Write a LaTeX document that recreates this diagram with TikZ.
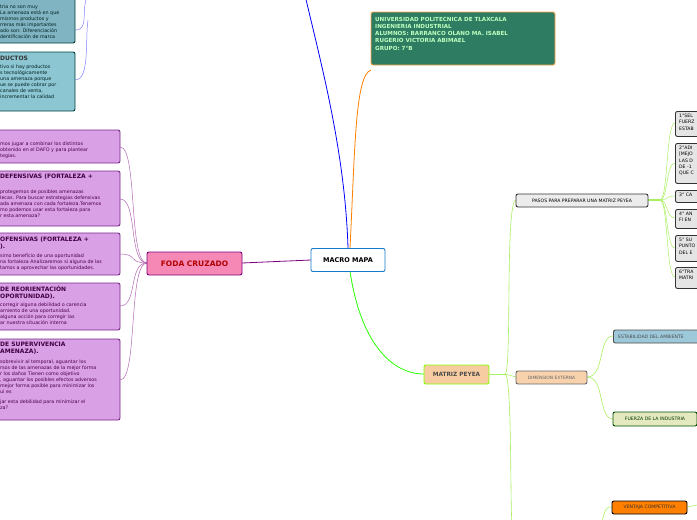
\documentclass[tikz,border=0pt]{standalone}
\usepackage{fontspec}
\setmainfont{DejaVu Sans}
\begin{document}
\begin{tikzpicture}[x=1pt,y=-1pt,
 bx/.style={draw,rounded corners=2pt,line width=0.9pt,inner sep=0pt},
 tx/.style={anchor=north west,align=left,inner sep=0pt,font=\fontsize{4.8}{6}\selectfont},
 ptx/.style={tx,text=violet!60!black},
 ttx/.style={tx,text=black!75!teal},
 gl/.style={color=lgr,line width=0.6pt}]
\useasboundingbox (0,0) rectangle (697,520);
\clip (0,0) rectangle (697,520);
\definecolor{purp}{HTML}{D9A0E6}
\definecolor{purpb}{HTML}{7A2A8A}
\definecolor{tealb}{HTML}{80B4C2}
\definecolor{tealc}{HTML}{8CC6D2}
\definecolor{lgr}{HTML}{A8F060}
\definecolor{unig}{HTML}{2E7D62}
% connectors
\draw[blue,line width=0.8pt] (348,248) .. controls (345,150) and (320,60) .. (305,-5);
\draw[blue!50,line width=0.5pt] (75,30) .. controls (90,30) and (80,10) .. (88,-5);
\draw[blue!50,line width=0.5pt] (75,80) .. controls (90,80) and (85,40) .. (88,20);
\draw[orange,line width=0.8pt] (350,248) .. controls (355,150) and (355,75) .. (371,70);
\draw[violet,line width=0.8pt] (311,260) -- (242,263);
\foreach \y in {147,199,254,306,380}{
 \draw[violet!60,line width=0.5pt] (147,263) .. controls (128,263) and (138,\y) .. (120,\y);}
\draw[green!80!lime,line width=0.8pt] (350,271) .. controls (360,340) and (390,374) .. (424,374);
\draw[gl,line width=1pt] (489,374) -- (505,374);
\draw[gl] (505,374) .. controls (512,374) and (505,200) .. (516,200);
\draw[gl] (505,374) .. controls (512,374) and (510,500) .. (512,525);
\draw[gl] (505,374) -- (516,377);
\draw[gl] (587,377) .. controls (605,377) and (598,336) .. (613,336);
\draw[gl] (587,377) .. controls (605,377) and (598,419) .. (613,419);
\draw[gl] (600,530) .. controls (605,510) and (605,507) .. (612,507);
\draw[gl] (687,507) -- (697,505);
\draw[gl,line width=1.2pt] (648,200) -- (660,200);
\foreach \y in {123,163,196,218,248,277}{
 \draw[gl,line width=0.5pt] (660,200) .. controls (668,200) and (666,\y) .. (675,\y);}
% central
\node[bx,draw=cyan!60!blue,fill=white,minimum width=74pt,minimum height=23pt,font=\bfseries\fontsize{6.5}{8}\selectfont] (macro) at (348,260) {MACRO MAPA};
\node[bx,draw=orange!70,fill=unig,minimum width=184pt,minimum height=53pt] (uni) at (463,38.5) {};
\node[tx,text=green!25,font=\bfseries\fontsize{5.6}{7.2}\selectfont] at (375,17) {UNIVERSIDAD POLITECNICA DE TLAXCALA\\INGENIERIA INDUSTRIAL\\ALUMNOS: BARRANCO OLANO MA. ISABEL\\RUGERIO VICTORIA ABIMAEL\\GRUPO: 7°B};
\node[bx,draw=violet,fill=magenta!45!pink!80,minimum width=95pt,minimum height=23pt,font=\bfseries\fontsize{7.5}{9}\selectfont,text=red!70!black] (foda) at (194.5,263.5) {FODA CRUZADO};
% teal boxes top left
\node[bx,draw=teal!50!black,fill=tealb] (t1) at (32,10) [minimum width=86pt,minimum height=66pt] {};
\node[ttx] at (0,5) {tria no son muy\\La amenaza está en que\\mismos productos y\\rreras más importantes\\ado son: Diferenciación\\dentificación de marca};
\node[bx,draw=teal!50!black,fill=tealc] (t2) at (32,81.5) [minimum width=86pt,minimum height=59pt] {};
\node[tx,font=\bfseries\fontsize{6}{7}\selectfont,text=black!80] at (0,56) {DUCTOS};
\node[ttx] at (0,65) {tivo si hay productos\\s tecnológicamente\\ una amenaza porque\\ue se puede cobrar por\\canales de venta,\\ incrementar la calidad};
% purple boxes
\node[bx,draw=purpb,fill=purp] (p1) at (55,146.5) [minimum width=130pt,minimum height=33pt] {};
\node[ptx] at (0,142) {mos jugar a combinar los distintos\\ obtenido en el DAFO y para plantear\\tegias.};
\node[bx,draw=purpb,fill=purp] (p2) at (55,198.5) [minimum width=130pt,minimum height=55pt] {};
\node[tx,font=\bfseries\fontsize{6}{7}\selectfont,text=violet!50!black] at (0,174) {DEFENSIVAS (FORTALEZA +};
\node[ptx] at (0,190) { protegemos de posibles amenazas\\ lecas. Para buscar estrategias defensivas\\ada amenaza con cada fortaleza.Tenemos\\mo podemos usar esta fortaleza para\\r esta amenaza?};
\node[bx,draw=purpb,fill=purp] (p3) at (55,254) [minimum width=130pt,minimum height=42pt] {};
\node[tx,font=\bfseries\fontsize{6}{7}\selectfont,text=violet!50!black] at (0,237) {OFENSIVAS (FORTALEZA +\\).};
\node[ptx] at (0,254) {simo beneficio de una oportunidad\\na fortaleza Analizaremos si alguna de las\\tamos a aprovechar las oportunidades.};
\node[bx,draw=purpb,fill=purp] (p4) at (55,306.5) [minimum width=130pt,minimum height=47pt] {};
\node[tx,font=\bfseries\fontsize{6}{7}\selectfont,text=violet!50!black] at (0,286) {DE REORIENTACIÓN\\OPORTUNIDAD).};
\node[ptx] at (0,303) { corregir alguna debilidad o carencia\\arniento de una oportunidad.\\ alguna acción para corregir las\\ar nuestra situación interna};
\node[bx,draw=purpb,fill=purp] (p5) at (55,379.5) [minimum width=130pt,minimum height=81pt] {};
\node[tx,font=\bfseries\fontsize{6}{7}\selectfont,text=violet!50!black] at (0,342) {DE SUPERVIVENCIA\\AMENAZA).};
\node[ptx] at (0,360) { sobrevivir al temporal, aguantar los\\rsos de las amenazas de la mejor forma\\r los daños Tienen como objetivo\\, aguantar los posibles efectos adversos\\ mejor forma posible para minimizar los\\ui es\\[4pt]jar esta debilidad para minimizar el\\za?};
% right
\node[bx,draw=black!80,fill=gray!15,minimum width=132pt,minimum height=13pt,font=\fontsize{4.6}{6}\selectfont] (pasos) at (582,200.5) {PASOS PARA PREPARAR UNA MATRIZ PEYEA};
\foreach \ya/\yb/\t in {111/136/{1°SEL\\FUERZ\\ESTAB},143/183/{2°ADI\\\relax[MEJO\\LAS D\\DE -1\\QUE C},190/202/{3° CA},209/228/{4° AN\\FI EN},235/261/{5° SU\\PUNTO\\DEL E},267/288/{6°TRA\\MATRI}}{
 \node[bx,draw=black!80,fill=gray!20,anchor=north west,minimum width=40pt,minimum height={\yb-\ya}] at (675,\ya) {};
 \node[tx,font=\fontsize{4.6}{6.2}\selectfont] at (679,\ya+3) {\t};}
\node[bx,draw=lime!70!green,fill=brown!30!orange!40,minimum width=65pt,minimum height=19pt,font=\bfseries\fontsize{5.8}{7}\selectfont,text=black!70] (peyea) at (456.5,374.5) {MATRIZ PEYEA};
\node[bx,draw=black!60,fill=brown!30!orange!35,minimum width=71pt,minimum height=13pt,font=\fontsize{4.4}{6}\selectfont,text=black!60] (dim) at (551.5,377.5) {DIMENSION EXTERNA};
\node[bx,draw=black!70,fill=cyan!35!white!85!black,anchor=west,minimum width=100pt,minimum height=13pt] (est) at (613,336.5) {};
\node[tx,anchor=west,font=\fontsize{4.6}{6}\selectfont,text=black!70] at (618,336.5) {ESTABILIDAD DEL AMBIENTE};
\node[bx,draw=green!30!black,fill=lime!30!olive!25!white,minimum width=84pt,minimum height=14pt,font=\fontsize{4.6}{6}\selectfont,text=green!20!black] (fue) at (655,419) {FUERZA DE LA INDUSTRIA};
\node[bx,draw=black,fill=orange,minimum width=75pt,minimum height=13pt,font=\fontsize{4.6}{6}\selectfont,text=black!80] (ven) at (649.5,507.5) {VENTAJA COMPETITIVA};
\end{tikzpicture}
\end{document}
